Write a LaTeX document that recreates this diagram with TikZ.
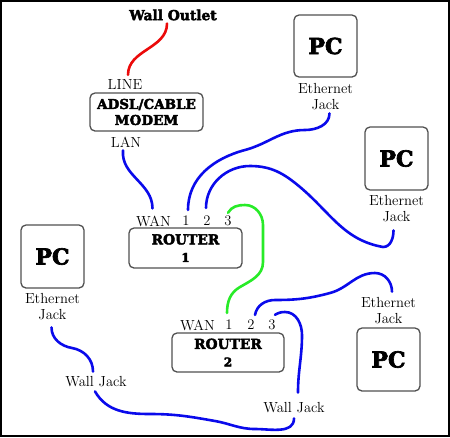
\documentclass[tikz,border=0pt]{standalone}
\usepackage{fontspec}
\newfontfamily\heavy{DejaVu Serif}[BoldFeatures={FakeBold=3}]
\definecolor{cblue}{RGB}{10,10,235}
\definecolor{cgreen}{RGB}{40,235,40}
\definecolor{cred}{RGB}{235,10,10}
\definecolor{boxgray}{RGB}{80,80,80}
\begin{document}
\begin{tikzpicture}[x=1pt,y=1pt,
  cable/.style={line width=2.6pt, line cap=round},
  box/.style={draw=boxgray, line width=1.3pt, rounded corners=5pt, inner sep=0pt, align=center},
  lbl/.style={inner sep=0pt, font=\fontsize{14.6}{16}\selectfont},
  hvtitle/.style={inner sep=0pt, font=\heavy\bfseries\fontsize{13.8}{16}\selectfont},
  devtext/.style={font=\heavy\bfseries\fontsize{13.8}{17.5}\selectfont},
  pcbox/.style={box, font=\heavy\bfseries\fontsize{22}{24}\selectfont, minimum width=63pt, minimum height=62pt},
]
\useasboundingbox (0,0) rectangle (450,-437);
\draw[line width=2pt] (1,-1) rectangle (449,-436);

% modem
\node[hvtitle] (wo) at (173,-15) {Wall Outlet};
\node[lbl] (line) at (125,-85) {LINE};
\node[box, font=\heavy\bfseries\fontsize{13.5}{16}\selectfont, minimum width=113pt, minimum height=38pt] (modem) at (146.5,-112) {ADSL/CABLE\\MODEM};
\node[lbl] (lan) at (126,-142) {LAN};

% router 1
\node[box, devtext, minimum width=113pt, minimum height=40pt] (r1) at (185.5,-248) {ROUTER\\{\fontsize{12}{12}\selectfont 1}};
\node[lbl] (r1w) at (153.5,-221) {WAN};
\node[lbl] (r1a) at (186,-221) {1};
\node[lbl] (r1b) at (207,-221) {2};
\node[lbl] (r1c) at (228,-221) {3};

% router 2
\node[box, devtext, minimum width=112pt, minimum height=39pt] (r2) at (228,-352.5) {ROUTER\\{\fontsize{12}{12}\selectfont 2}};
\node[lbl] (r2w) at (197.5,-325) {WAN};
\node[lbl] (r2a) at (229,-325) {1};
\node[lbl] (r2b) at (251,-325) {2};
\node[lbl] (r2c) at (272,-325) {3};

% PCs
\node[pcbox] (pc1) at (325.5,-46) {PC};
\node[lbl] (e1) at (325.5,-89) {Ethernet};
\node[lbl] (j1) at (325.5,-105) {Jack};

\node[pcbox, minimum height=63pt] (pc2) at (396.5,-158.5) {PC};
\node[lbl] (e2) at (396.5,-201) {Ethernet};
\node[lbl] (j2) at (396.5,-217) {Jack};

\node[pcbox, minimum height=63pt] (pc3) at (52.5,-256.5) {PC};
\node[lbl] (e3) at (52.5,-299) {Ethernet};
\node[lbl] (j3) at (52.5,-315) {Jack};

\node[lbl] (e4) at (388.5,-303) {Ethernet};
\node[lbl] (j4) at (388.5,-319) {Jack};
\node[pcbox, minimum height=63pt] (pc4) at (388.5,-359.5) {PC};

% wall jacks
\node[lbl] (wj1) at (96,-382) {Wall Jack};
\node[lbl] (wj2) at (294,-408) {Wall Jack};

% cables
\draw[cable, cred] ([xshift=-6pt,yshift=-3pt]wo.south) to[out=-90,in=90] ([xshift=3pt,yshift=5pt]line.north);
\draw[cable, cblue] ([xshift=-3pt,yshift=-3pt]lan.south) to[out=-95,in=90] ([xshift=-1pt,yshift=7pt]r1w.north);
\draw[cable, cblue] ([xshift=4pt,yshift=-3pt]j1.south) to[out=-90,in=0] (305,-130) to[out=180,in=15] (245,-150) to[out=195,in=90] ([xshift=2pt,yshift=6pt]r1a.north);
\draw[cable, cblue] ([xshift=-3pt,yshift=-8pt]j2.south) to[out=-90,in=0] (383,-247) to[out=170,in=-40] (300,-187) to[out=140,in=0] (250,-166) to[out=180,in=90] ([xshift=-1pt,yshift=8pt]r1b.north);
\draw[cable, cgreen] ([yshift=3pt]r1c.north) to[out=60,in=180] (245,-205) to[out=0,in=90] (263,-225) -- (263,-262) to[out=-90,in=30] (240,-287) to[out=210,in=90] ([xshift=-2pt,yshift=7pt]r2a.north);
\draw[cable, cblue] ([xshift=4pt,yshift=5pt]r2b.north) to[out=80,in=180] (275,-300) to[out=0,in=195] (330,-293) to[out=15,in=180] (375,-273) to[out=0,in=90] ([xshift=3.5pt,yshift=6pt]e4.north);
\draw[cable, cblue] ([xshift=3pt,yshift=5pt]r2c.north) to[out=30,in=180] (285,-312) to[out=0,in=90] (302,-335) to[out=-90,in=90] ([xshift=4pt,yshift=10pt]wj2.north);
\draw[cable, cblue] ([xshift=-1pt,yshift=-7pt]j3.south) to[out=-90,in=170] (72,-348) to[out=-10,in=90] ([xshift=-3pt,yshift=5pt]wj1.north);
\draw[cable, cblue] ([xshift=-1pt,yshift=-4pt]wj1.south) to[out=-60,in=180] (150,-414) to[out=0,in=170] (215,-421) to[out=-10,in=180] (255,-429) to[out=0,in=-90] ([yshift=-5pt]wj2.south);
\end{tikzpicture}
\end{document}
